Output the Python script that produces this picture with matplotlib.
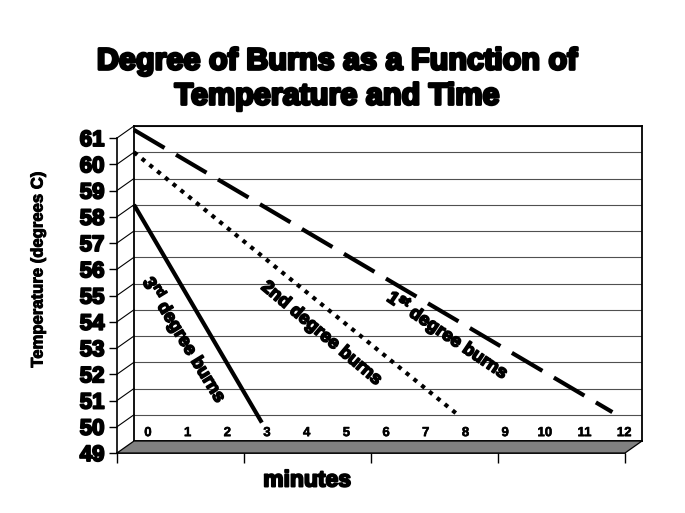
import matplotlib
matplotlib.use("Agg")
import matplotlib.pyplot as plt
import matplotlib.patheffects as pe
from matplotlib.patches import Polygon
from matplotlib.lines import Line2D
import numpy as np

# ---------------- data ----------------
minute_labels = list(range(0, 13))
temp_ticks = list(range(49, 62))
front_x_ticks = [0, 3, 6, 9, 12]

third_x = [0.0, 3.02]
third_y = [58.0, 49.7]
second_x = [0.0, 7.65]
second_y = [60.0, 50.0]
first_x = [0.0, 11.3]
first_y = [60.85, 50.1]

title = "Degree of Burns as a Function of\nTemperature and Time"
ylabel = "Temperature (degrees C)"
xlabel = "minutes"

# ---------------- style ----------------
plt.rcParams['font.family'] = ['Liberation Sans', 'DejaVu Sans']
plt.rcParams['mathtext.fontset'] = 'custom'
plt.rcParams['mathtext.bf'] = 'Liberation Sans:bold'
plt.rcParams['mathtext.rm'] = 'Liberation Sans:bold'
plt.rcParams['mathtext.it'] = 'Liberation Sans:bold'

W, H = 685, 513
fig = plt.figure(figsize=(W / 100, H / 100), dpi=100)
fig.patch.set_facecolor('white')

def fx(p):
    return p / W

def fy(p):
    return 1 - p / H

heavy = [pe.withStroke(linewidth=1.4, foreground='black')]

# geometry (pixels)
wall_l, wall_r, wall_t, wall_b = 134, 642, 126, 441
dx, dy = -17, 12  # offset of front plane

ax = fig.add_axes([fx(wall_l), fy(wall_b), (wall_r - wall_l) / W, (wall_b - wall_t) / H])
ax.set_xlim(0, 12)
ax.set_ylim(49, 61)
ax.set_yticks(temp_ticks)
ax.set_xticks([])
ax.tick_params(axis='y', length=0, labelleft=False)
ax.grid(axis='y', color='#505050', lw=0.8)
ax.set_axisbelow(True)
for s in ax.spines.values():
    s.set_color('black')
    s.set_linewidth(1.3)
ax.set_facecolor('white')

# front axis
axf = fig.add_axes([fx(wall_l + dx), fy(wall_b + dy), (wall_r - wall_l) / W, (wall_b - wall_t) / H])
axf.set_xlim(0, 12)
axf.set_ylim(49, 61)
axf.patch.set_alpha(0)
axf.set_yticks(temp_ticks)
axf.set_xticks(front_x_ticks)
axf.set_xticklabels([])
axf.spines['top'].set_visible(False)
axf.spines['right'].set_visible(False)
axf.spines['left'].set_linewidth(1.2)
axf.spines['bottom'].set_linewidth(1.2)
axf.tick_params(axis='y', length=6, width=1, pad=3, labelsize=16)
axf.tick_params(axis='x', length=7, width=1)
for t in axf.get_yticklabels():
    t.set_fontweight('bold')
    t.set_path_effects(heavy)

# floor polygon
floor = Polygon([(fx(wall_l), fy(wall_b)), (fx(wall_r), fy(wall_b)),
                 (fx(wall_r + dx), fy(wall_b + dy)), (fx(wall_l + dx), fy(wall_b + dy))],
                closed=True, transform=fig.transFigure, facecolor='#808080',
                edgecolor='black', lw=0.9, zorder=1)
fig.patches.append(floor)

# side diagonals from front ticks to back wall
pxper = (wall_b - wall_t) / 12.0
for v in temp_ticks[1:]:
    yb = wall_b - (v - 49) * pxper
    fig.add_artist(Line2D([fx(wall_l + dx), fx(wall_l)], [fy(yb + dy), fy(yb)],
                          transform=fig.transFigure, color='black', lw=0.8))

# data lines
ax.plot(third_x, third_y, color='black', lw=3.0, solid_capstyle='butt', clip_on=False, zorder=3)
ax.plot(second_x, second_y, color='black', lw=3.0, linestyle=(0, (1.0, 1.4)),
        dash_capstyle='butt', clip_on=False, zorder=3)
ax.plot(first_x, first_y, color='black', lw=3.0, linestyle=(0, (8.5, 3.2)),
        dash_capstyle='butt', clip_on=False, zorder=3)

# minute labels inside the wall
label_pos = np.linspace(0.33, 11.58, len(minute_labels))
for p, m in zip(label_pos, minute_labels):
    ax.text(p, 49.3, str(m), ha='center', va='center', fontsize=9.5, fontweight='bold',
            path_effects=[pe.withStroke(linewidth=0.4, foreground='black')])

# series labels
lab_kw = dict(ha='center', va='center', fontsize=13, fontweight='bold',
              rotation_mode='anchor', path_effects=[pe.withStroke(linewidth=1.2, foreground='black')])
ax.text(1.2, 52.85, r"$\mathbf{3^{rd}}$ degree burns", rotation=-58.5, **lab_kw)
ax.text(4.42, 53.1, "2nd degree burns", rotation=-40, **lab_kw)
ax.text(7.42, 53.04, r"$\mathbf{1^{st}}$ degree burns", rotation=-34, **lab_kw)

# titles and axis labels
fig.text(fx(337), fy(79), title, ha='center', va='center', fontsize=22, fontweight='bold',
         linespacing=1.22, path_effects=[pe.withStroke(linewidth=2.0, foreground='black')])
fig.text(fx(38), fy(270), ylabel, ha='center', va='center', rotation=90,
         fontsize=12, fontweight='bold', path_effects=[pe.withStroke(linewidth=0.7, foreground='black')])
fig.text(fx(307), fy(480), xlabel, ha='center', va='center', fontsize=16.5,
         fontweight='bold', path_effects=heavy)

fig.savefig("out.png", dpi=100)
